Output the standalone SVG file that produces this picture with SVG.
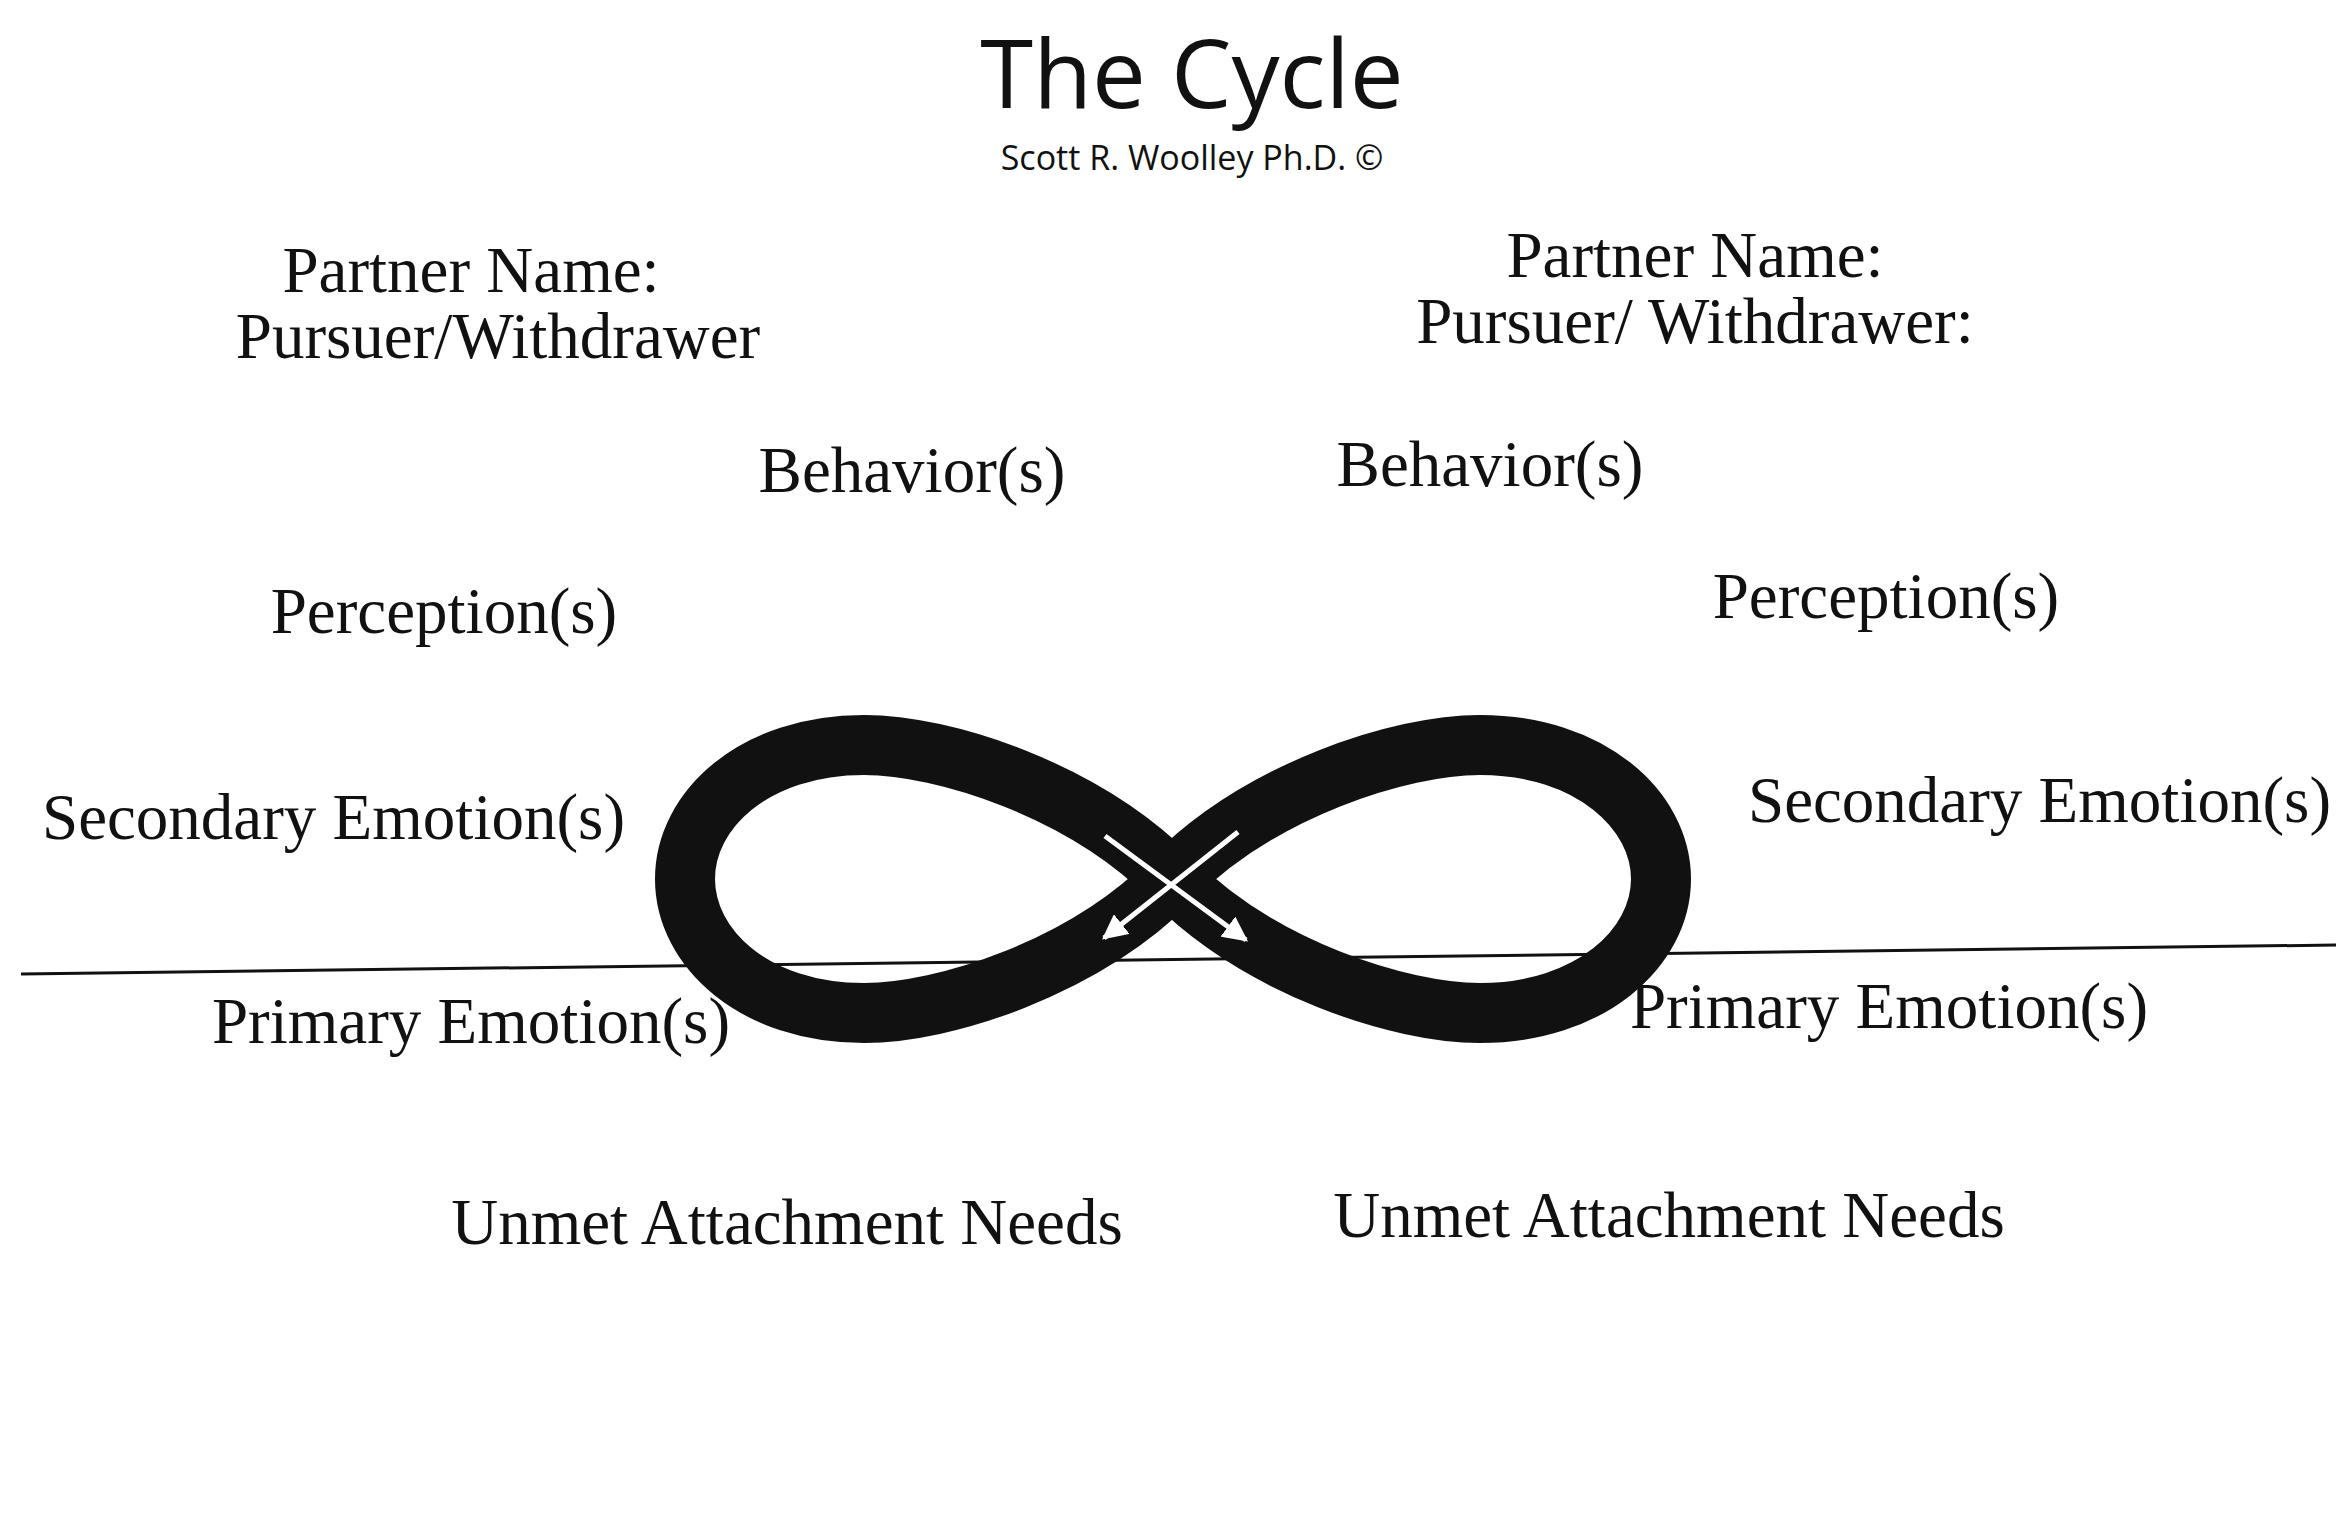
<svg xmlns="http://www.w3.org/2000/svg" width="2336" height="1525" viewBox="0 0 2336 1525">
<defs>
<style>
.s{font-family:"Liberation Serif","Times New Roman",serif;font-size:65px;fill:#111}
.t{font-family:"Open Sans","Noto Sans",sans-serif;fill:#111}
</style>
<marker id="wa" viewBox="0 0 10 10" refX="9" refY="5" markerWidth="5" markerHeight="5" orient="auto"><path d="M0,0 L10,5 L0,10 Z" fill="#fff"/></marker>
</defs>
<rect width="2336" height="1525" fill="#fff"/>
<g id="title"><text class="t" x="1192" y="108" font-size="96" text-anchor="middle">The Cycle</text>
<text class="t" x="1192" y="170" font-size="34" text-anchor="middle">Scott R. Woolley Ph.D. ©</text></g>
<g id="left-partner"><text class="s" x="471" y="292" text-anchor="middle">Partner Name:</text><text class="s" x="498" y="358" text-anchor="middle">Pursuer/Withdrawer</text></g>
<g id="right-partner"><text class="s" x="1695" y="277" text-anchor="middle">Partner Name:</text><text class="s" x="1695" y="343" text-anchor="middle">Pursuer/ Withdrawer:</text></g>
<g id="left-behavior"><text class="s" x="912" y="492" text-anchor="middle">Behavior(s)</text></g>
<g id="right-behavior"><text class="s" x="1490" y="486" text-anchor="middle">Behavior(s)</text></g>
<g id="left-perception"><text class="s" x="444" y="633" text-anchor="middle">Perception(s)</text></g>
<g id="right-perception"><text class="s" x="1886" y="618" text-anchor="middle">Perception(s)</text></g>
<g id="left-secondary"><text class="s" x="42" y="839">Secondary Emotion(s)</text></g>
<g id="right-secondary"><text class="s" x="1748" y="822" font-size="62">Secondary Emotion(s)</text></g>
<g id="left-primary"><text class="s" x="471" y="1043" text-anchor="middle">Primary Emotion(s)</text></g>
<g id="right-primary"><text class="s" x="1889" y="1028" text-anchor="middle">Primary Emotion(s)</text></g>
<g id="left-needs"><text class="s" x="787" y="1244" text-anchor="middle">Unmet Attachment Needs</text></g>
<g id="right-needs"><text class="s" x="1669" y="1237" text-anchor="middle">Unmet Attachment Needs</text></g>
<g id="connectors">
<line x1="21" y1="974" x2="2336" y2="945" stroke="#111" stroke-width="3"/>
<path d="M1172,879 C1260,790 1400,745 1480,745 C1590,745 1661,810 1661,879 C1661,948 1590,1013 1480,1013 C1400,1013 1260,968 1172,879 C1084,790 944,745 864,745 C754,745 685,810 685,879 C685,948 754,1013 864,1013 C944,1013 1084,968 1172,879 Z" fill="none" stroke="#111" stroke-width="60"/>
<line x1="1105" y1="836" x2="1246" y2="940" stroke="#fff" stroke-width="5" marker-end="url(#wa)"/>
<line x1="1238" y1="832" x2="1104" y2="938" stroke="#fff" stroke-width="5" marker-end="url(#wa)"/>
</g>
</svg>
